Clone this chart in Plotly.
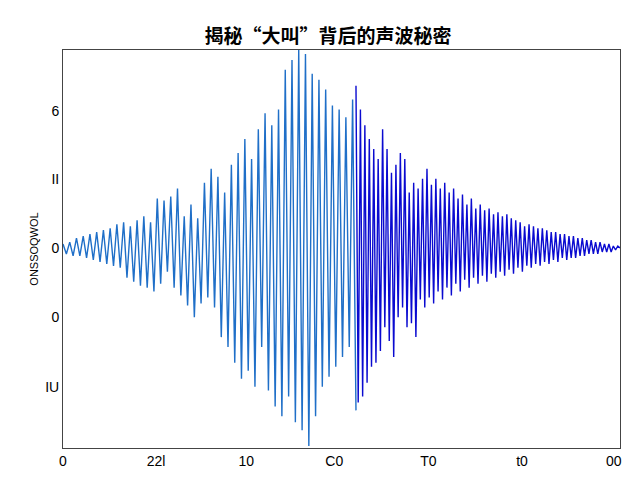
import plotly.graph_objects as go

# waveform peaks (signed amplitude, full scale = 1)
left_peaks = [0.02, -0.03, 0.03, -0.04, 0.05, -0.04, 0.06, -0.05, 0.07, -0.06, 0.08, -0.07, 0.09, -0.08, 0.1, -0.09,
              0.12, -0.1, 0.13, -0.15, 0.11, -0.17, 0.14, -0.19, 0.16, -0.2, 0.13, -0.22, 0.25, -0.18, 0.24,
              -0.12, 0.26, -0.2, 0.3, -0.24, 0.16, -0.29, 0.22, -0.35, 0.15, -0.28, 0.33, -0.25, 0.4, -0.3,
              0.36, -0.45, 0.28, -0.5, 0.42, -0.58, 0.48, -0.66, 0.55, -0.62, 0.45, -0.7, 0.6, -0.5, 0.68,
              -0.72, 0.62, -0.8, 0.7, -0.85, 0.9, -0.75, 0.95, -0.88, 1.0, -0.92, 0.98, -1.0, 0.88, -0.85,
              0.85, -0.7, 0.8, -0.65, 0.72, -0.6, 0.7, -0.55, 0.66, -0.5, 0.75, -0.82]
right_peaks = [0.82, -0.78, 0.7, -0.75, 0.62, -0.68, 0.55, -0.6, 0.5, -0.58, 0.45, -0.52, 0.6, -0.4, 0.5, -0.47,
               0.38, -0.55, 0.42, -0.35, 0.48, -0.3, 0.45, -0.4, 0.28, -0.38, 0.33, -0.45, 0.3, -0.26,
               0.35, -0.3, 0.4, -0.25, 0.32, -0.28, 0.35, -0.22, 0.3, -0.26, 0.33, -0.2, 0.28, -0.24, 0.3,
               -0.18, 0.25, -0.22, 0.27, -0.16, 0.22, -0.2, 0.25, -0.15, 0.2, -0.18, 0.22, -0.14, 0.19, -0.17,
               0.2, -0.13, 0.17, -0.15, 0.18, -0.12, 0.16, -0.14, 0.17, -0.11, 0.15, -0.13, 0.14, -0.1, 0.13,
               -0.12, 0.11, -0.09, 0.12, -0.1, 0.11, -0.08, 0.1, -0.09, 0.1, -0.07, 0.09, -0.08, 0.08, -0.06,
               0.08, -0.07, 0.07, -0.05, 0.07, -0.06, 0.06, -0.05, 0.06, -0.05, 0.05, -0.04, 0.05, -0.04, 0.04,
               -0.03, 0.04, -0.03, 0.03, -0.03, 0.03, -0.02, 0.02, -0.02, 0.02, -0.02, 0.01, -0.01, 0.01, 0.0]

x_tickvals = [0, 16.7, 32.9, 48.7, 65.6, 82.4, 98.9]
x_ticktext = ["0", "22l", "10", "C0", "T0", "t0", "00"]
y_tickvals = [0.69, 0.35, 0, -0.35, -0.7]
y_ticktext = ["6", "II", "0", "0", "IU"]

split = 52.6
fig = go.Figure()
fig.add_trace(go.Scatter(y=left_peaks, x0=0, dx=split / (len(left_peaks) - 1), mode="lines",
                         line=dict(color="#1f6fc8", width=1.4), showlegend=False))
fig.add_trace(go.Scatter(y=right_peaks, x0=split, dx=(100 - split) / (len(right_peaks) - 1), mode="lines",
                         line=dict(color="#0a0ad0", width=1.4), showlegend=False))

fig.update_layout(
    width=640, height=480,
    paper_bgcolor="white", plot_bgcolor="white",
    margin=dict(l=55, r=28, t=42, b=40),
    title=dict(text="<b>揭秘“大叫”背后的声波秘密</b>", x=0.5, y=0.955, xanchor="center",
               font=dict(family="Noto Sans CJK SC", size=19, color="black")),
    font=dict(family="Liberation Sans", size=14, color="black"),
    xaxis=dict(range=[0, 100], tickvals=x_tickvals, ticktext=x_ticktext, showgrid=False, zeroline=False,
               showline=True, linecolor="#444", mirror=True, ticks=""),
    yaxis=dict(range=[-1.01, 1.0], tickvals=y_tickvals, ticktext=y_ticktext, showgrid=False, zeroline=False,
               showline=True, linecolor="#444", mirror=True, ticks="", automargin=False,
               title=dict(text="ONSSOQWOL", font=dict(size=11), standoff=4)),
)

fig.write_html("out.html")
